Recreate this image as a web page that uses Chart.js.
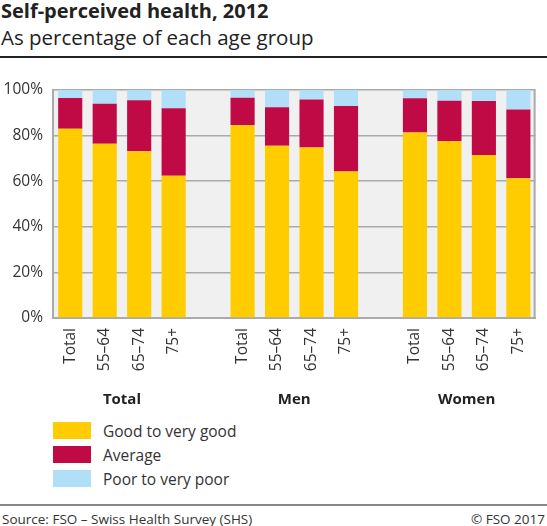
<!DOCTYPE html>
<html>
<head>
<meta charset="utf-8">
<script src="https://cdn.jsdelivr.net/npm/chart.js@4"></script>
<style>
  body { margin: 0; background: #fff; font-family: "Open Sans", sans-serif; color: #222; }
  #page { position: relative; width: 547px; height: 526px; overflow: hidden; }
  .title { position: absolute; left: 1px; top: -1px; font-size: 20px; font-weight: bold; line-height: 24px; white-space: nowrap; }
  .subtitle { position: absolute; left: 1px; top: 25px; font-size: 20.5px; line-height: 24px; white-space: nowrap; }
  .rule-top { position: absolute; left: 0; top: 56px; width: 547px; height: 2px; background: #222; }
  #wrap { position: absolute; left: 0; top: 70px; width: 547px; height: 345px; }
  #legend { position: absolute; left: 53px; top: 418.5px; }
  .item { display: flex; align-items: center; height: 24px; }
  .box { width: 38px; height: 17px; margin-right: 12px; }
  .item span { font-size: 15.5px; color: #333; }
  .rule-bottom { position: absolute; left: 0; top: 504px; width: 547px; height: 2px; background: #888; }
  .source { position: absolute; left: 2px; top: 511px; font-size: 13.5px; line-height: 16px; color: #333; }
  .copy { position: absolute; right: 2px; top: 511px; font-size: 13.5px; line-height: 16px; color: #333; }
</style>
</head>
<body>
<div id="page">
  <div class="title">Self-perceived health, 2012</div>
  <div class="subtitle">As percentage of each age group</div>
  <div class="rule-top"></div>
  <div id="wrap"><canvas id="chartHealth"></canvas></div>
  <div id="legend"></div>
  <div class="rule-bottom"></div>
  <div class="source">Source: FSO – Swiss Health Survey (SHS)</div>
  <div class="copy">© FSO 2017</div>
</div>
<script>
const groupes = ['Total', 'Men', 'Women'];
const ages = ['Total', '55–64', '65–74', '75+'];
const yTicks = [0, 20, 40, 60, 80, 100];

// valeurs en %, dans l'ordre Total / Men / Women, puis par âge
const goodVeryGood = [83.0, 76.4, 73.1, 62.4, 84.5, 75.6, 74.8, 64.3, 81.4, 77.5, 71.5, 61.3];
const average      = [13.5, 17.6, 22.4, 29.6, 12.1, 16.8, 21.0, 28.7, 15.0, 17.8, 23.7, 30.2];
const poorVeryPoor = [ 3.5,  6.0,  4.5,  8.0,  3.4,  7.6,  4.2,  7.0,  3.6,  4.7,  4.8,  8.5];

// une case vide entre les groupes
const avecEspaces = (vals) => {
    const out = [];
    groupes.forEach((g, gi) => {
        if (gi > 0) out.push(null);
        ages.forEach((a, ai) => out.push(vals[gi * ages.length + ai]));
    });
    return out;
};
const labels = avecEspaces(groupes.flatMap(() => ages)).map(l => l === null ? '' : l);

const plotFrame = {
    id: 'plotFrame',
    beforeDraw(chart) {
        const { ctx, chartArea: a } = chart;
        ctx.save();
        ctx.fillStyle = '#f0f0f0';
        ctx.fillRect(a.left, a.top, a.right - a.left, a.bottom - a.top);
        ctx.restore();
    },
    afterDraw(chart) {
        const { ctx, chartArea: a, scales } = chart;
        ctx.save();
        ctx.strokeStyle = '#aaa';
        ctx.lineWidth = 2;
        ctx.beginPath();
        ctx.moveTo(a.right - 1, a.top);
        ctx.lineTo(a.right - 1, a.bottom);
        ctx.stroke();
        // noms des groupes sous les âges
        ctx.fillStyle = '#222';
        ctx.font = 'bold 15px "Open Sans"';
        ctx.textAlign = 'center';
        ctx.textBaseline = 'middle';
        groupes.forEach((g, gi) => {
            const start = gi * (ages.length + 1);
            const x = scales.x.getPixelForValue(start + (ages.length - 1) / 2);
            ctx.fillText(g, x, 330);
        });
        ctx.restore();
    }
};

let chartHealth;

const initChartHealth = () => {
    const ctx = document.getElementById('chartHealth').getContext('2d');
    chartHealth = new Chart(ctx, {
        type: 'bar',
        data: {
            labels: labels,
            datasets: [
                { label: 'Good to very good', data: avecEspaces(goodVeryGood), backgroundColor: '#ffcc00' },
                { label: 'Average', data: avecEspaces(average), backgroundColor: '#c00a46' },
                { label: 'Poor to very poor', data: avecEspaces(poorVeryPoor), backgroundColor: '#b2dff8' }
            ]
        },
        options: {
            responsive: true,
            maintainAspectRatio: false,
            animation: false,
            layout: { padding: { top: 20, right: 1, left: 0, bottom: 0 } },
            datasets: { bar: { barPercentage: 0.7, categoryPercentage: 1.0, borderWidth: 0 } },
            plugins: {
                legend: { display: false },
                tooltip: { enabled: false }
            },
            scales: {
                x: {
                    stacked: true,
                    grid: { display: false, drawTicks: false },
                    border: { display: true, color: '#aaa', width: 2 },
                    ticks: {
                        minRotation: 90, maxRotation: 90, autoSkip: false, padding: 10,
                        color: '#333', font: { family: 'Open Sans', size: 15.5 }
                    },
                    afterFit: (s) => { s.height = 97; }
                },
                y: {
                    stacked: true,
                    min: 0, max: 100,
                    afterBuildTicks: (s) => { s.ticks = yTicks.map(v => ({ value: v })); },
                    grid: { color: '#aaa', lineWidth: 1.5, drawTicks: false },
                    border: { display: true, color: '#aaa', width: 2 },
                    ticks: {
                        padding: 10, color: '#333',
                        font: { family: 'Open Sans', size: 15.5 },
                        callback: (v) => v + '%'
                    },
                    afterFit: (s) => { s.width = 53; }
                }
            }
        },
        plugins: [plotFrame]
    });
};

const initLegende = () => {
    const el = document.getElementById('legend');
    chartHealth.data.datasets.forEach(ds => {
        const item = document.createElement('div');
        item.className = 'item';
        item.innerHTML = '<div class="box" style="background:' + ds.backgroundColor + '"></div><span>' + ds.label + '</span>';
        el.appendChild(item);
    });
};

initChartHealth();
initLegende();
</script>
</body>
</html>
